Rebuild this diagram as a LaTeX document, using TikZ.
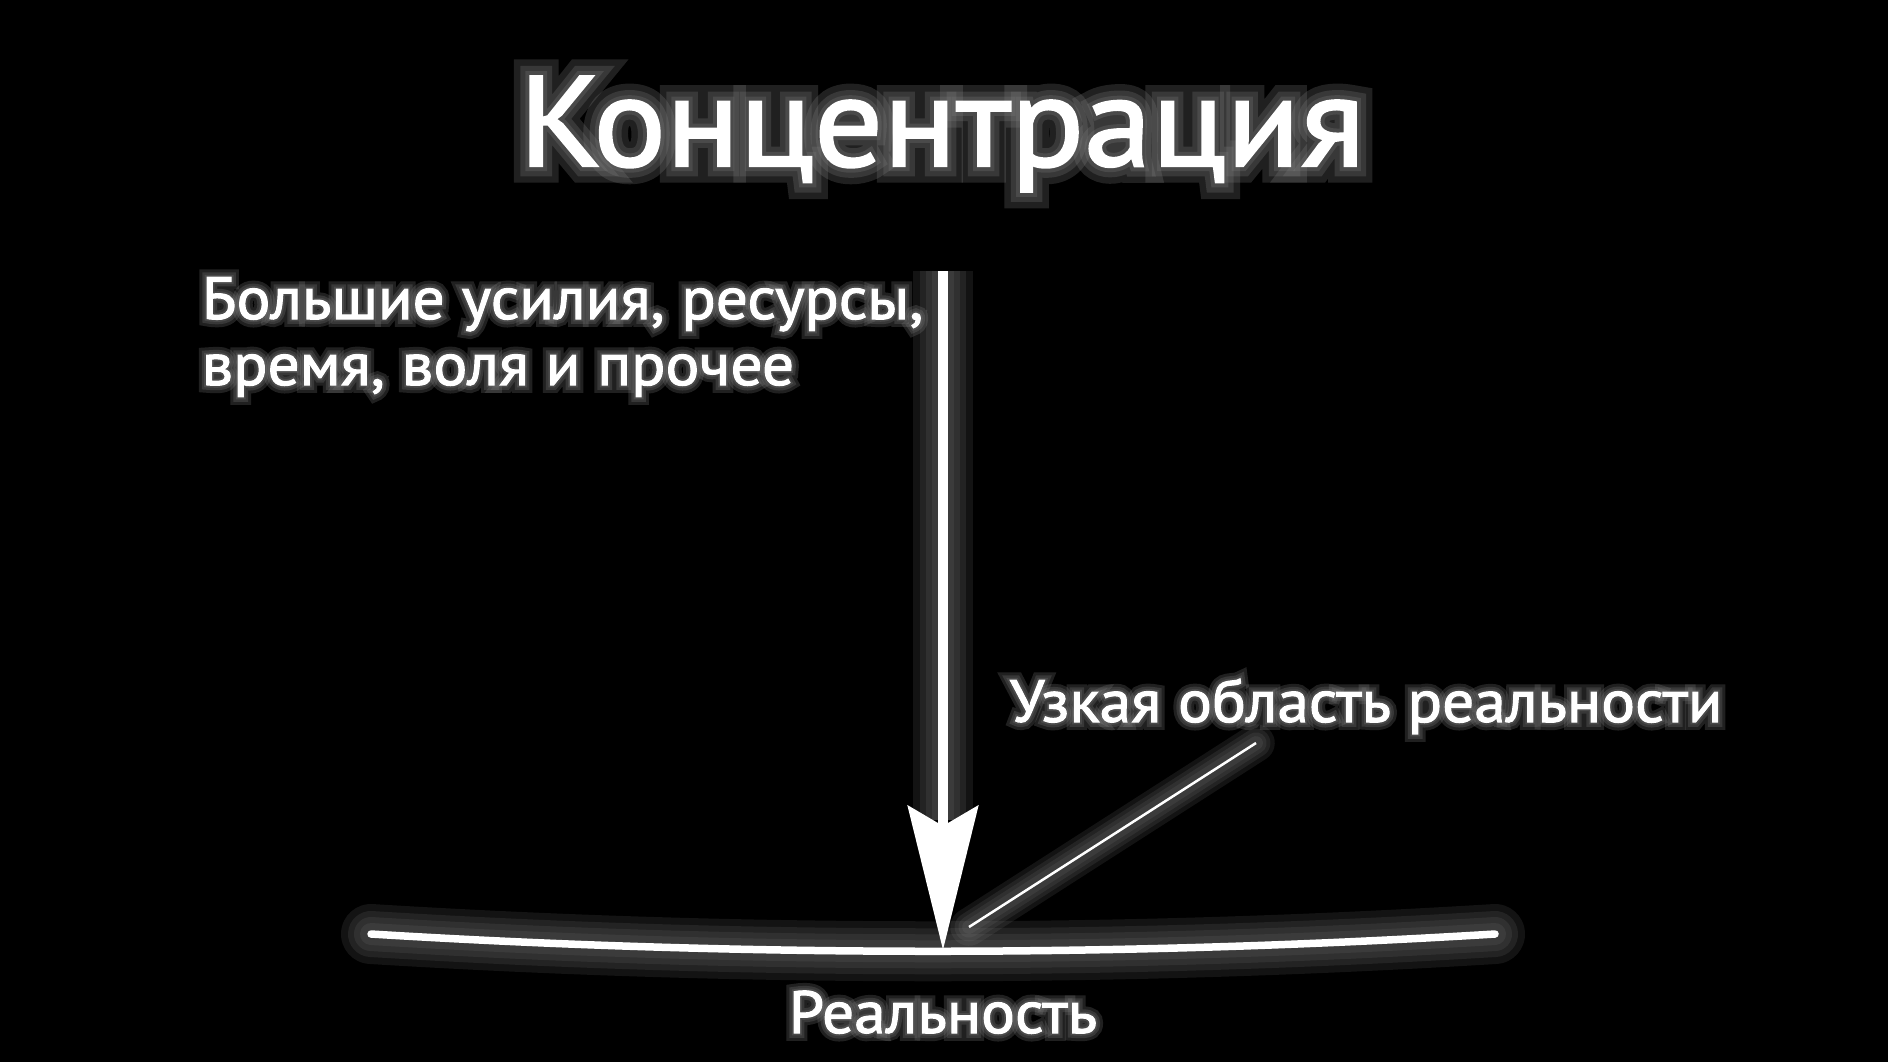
\documentclass[tikz,border=0pt]{standalone}
\usepackage{fontspec}
\setmainfont{PT Sans}[FakeStretch=1.06,FakeBold=1.8]
\newfontfamily\haloA{PT Sans}[FakeStretch=1.06,FakeBold=8]
\newfontfamily\haloB{PT Sans}[FakeStretch=1.06,FakeBold=16]
\newfontfamily\haloC{PT Sans}[FakeStretch=1.06,FakeBold=26]
\usetikzlibrary{arrows.meta}

\tikzset{
  txt/.style={text=white,font=\fontsize{17}{20}\selectfont,inner sep=0pt,anchor=base west},
  head/.style={font=\fontsize{36.5}{44}\selectfont},
  halo/.style={text=white!50!black,opacity=0.25},
  beam/.style={draw=white,line width=0.1cm},
  haze/.style={draw=white!50!black,draw opacity=0.15}
}

\begin{document}
\begin{tikzpicture}[x=1cm,y=1cm]
  \fill[black] (0,0) rectangle (18.88,-10.62);
  \useasboundingbox (0,0) rectangle (18.88,-10.62);

  % points
  \coordinate (top) at (9.43,-2.71);
  \coordinate (tip) at (9.43,-9.50);
  \coordinate (realL) at (3.71,-9.34);
  \coordinate (realR) at (14.95,-9.34);
  \coordinate (lead) at (12.56,-7.43);
  \coordinate (leadend) at (9.69,-9.27);

  % glow behind lines
  \foreach \w in {0.6,0.46,0.34,0.22}{
    \draw[haze,line width=\w cm,line cap=round] (realL) .. controls (7.46,-9.57) and (11.20,-9.57) .. (realR);
    \draw[haze,line width=\w cm] (top) -- (9.43,-8.2);
    \draw[haze,line width=\w cm/1.6,line cap=round] (lead) -- (leadend);
  }

  % reality
  \draw[white,line width=0.075cm,line cap=round] (realL) .. controls (7.46,-9.57) and (11.20,-9.57) .. (realR);
  % concentration arrow
  \draw[beam,-{Stealth[length=1.44cm,width=0.7cm,inset=0.2cm]}] (top) -- (tip);
  % leader
  \draw[white,line width=0.025cm] (lead) -- (leadend);

  % glow behind text
  \foreach \f in {\haloC,\haloB,\haloA}{
    \node[txt,halo,anchor=base,font=\f\fontsize{36.5}{44}\selectfont] at (9.42,-1.66) {Концентрация};
    \node[txt,halo,font=\f\fontsize{17}{20}\selectfont] at (2.01,-3.19) {Большие усилия, ресурсы,};
    \node[txt,halo,font=\f\fontsize{17}{20}\selectfont] at (2.01,-3.85) {время, воля и прочее};
    \node[txt,halo,font=\f\fontsize{17}{20}\selectfont] at (10.09,-7.22) {Узкая область реальности};
    \node[txt,halo,anchor=base,font=\f\fontsize{17}{20}\selectfont] at (9.43,-10.33) {Реальность};
  }

  % labels
  \node[txt,head,anchor=base] (title) at (9.42,-1.66) {Концентрация};
  \node[txt] (effort1) at (2.01,-3.19) {Большие усилия, ресурсы,};
  \node[txt] (effort2) at (2.01,-3.85) {время, воля и прочее};
  \node[txt] (narrow) at (10.09,-7.22) {Узкая область реальности};
  \node[txt,anchor=base] (reality) at (9.43,-10.33) {Реальность};
\end{tikzpicture}
\end{document}
